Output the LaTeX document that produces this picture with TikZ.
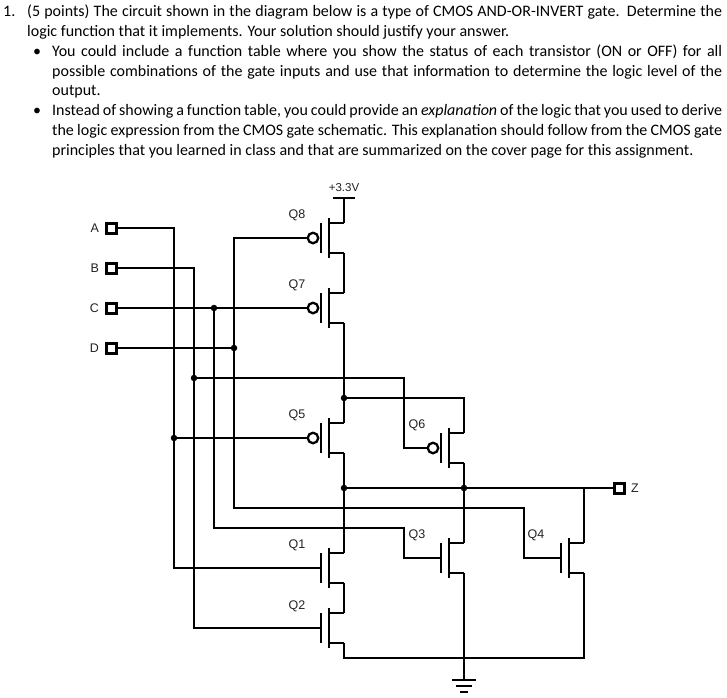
\documentclass[tikz,border=0pt]{standalone}
\usepackage{fontspec}
\setmainfont{Carlito}
\newfontfamily\schemfont{Liberation Sans}
\usetikzlibrary{positioning}
\definecolor{labelgray}{HTML}{222222}
\tikzset{
  wire/.style={line width=1.9pt, line join=miter},
  bar/.style={line width=2.2pt},
  pin/.style={draw, line width=3pt, fill=white, minimum size=10pt, inner sep=0pt},
  tap/.style={circle, fill=black, minimum size=6.5pt, inner sep=0pt},
  bubble/.style={circle, draw, line width=2.3pt, fill=white, minimum size=10.5pt, inner sep=0pt},
  qlabel/.style={font=\schemfont\fontsize{12.5}{14}\selectfont, color=labelgray},
  textline/.style={font=\fontsize{16}{18}\selectfont, anchor=base west, inner sep=0pt}
}
% width, text
\newcommand{\justline}[2]{\makebox[#1][s]{\spaceskip=.2em plus 1em minus .12em\relax #2}}
% name, channel x, gate y
\newcommand{\nfet}[3]{
  \coordinate (#1g) at (#2-8,#3);
  \coordinate (#1d) at (#2+15,#3-15);
  \coordinate (#1s) at (#2+15,#3+15);
  \draw[bar] (#2-8,#3-15) -- (#2-8,#3+15);
  \draw[bar] (#2,#3-20) -- (#2,#3+20);
  \draw[wire] (#2,#3-15) -- (#1d);
  \draw[wire] (#2,#3+15) -- (#1s);
}
\newcommand{\pfet}[3]{
  \nfet{#1}{#2}{#3}
  \node[bubble] (#1b) at (#2-16,#3) {};
}
\begin{document}
\begin{tikzpicture}[x=1pt, y=-1pt]
    \useasboundingbox (0,0) rectangle (727,697);
    % Question text
    \node[textline] (num) at (3,16) {1.};
    \node[textline] (line1) at (27,16) {\justline{695pt}{(5 points) The circuit shown in the diagram below is a type of CMOS AND-OR-INVERT gate. Determine the}};
    \node[textline] (line2) at (27,36) {logic function that it implements. Your solution should justify your answer.};
    \node[textline] (bulletA) at (33,56) {•};
    \node[textline] (line3) at (52,56) {\justline{670pt}{You could include a function table where you show the status of each transistor (ON or OFF) for all}};
    \node[textline] (line4) at (52,76) {\justline{670pt}{possible combinations of the gate inputs and use that information to determine the logic level of the}};
    \node[textline] (line5) at (52,95) {output.};
    \node[textline] (bulletB) at (33,115) {•};
    \node[textline] (line6) at (52,115) {\justline{670pt}{Instead of showing a function table, you could provide an \textit{explanation} of the logic that you used to derive}};
    \node[textline] (line7) at (52,135) {\justline{670pt}{the logic expression from the CMOS gate schematic. This explanation should follow from the CMOS gate}};
    \node[textline] (line8) at (52,155) {principles that you learned in class and that are summarized on the cover page for this assignment.};
    % Transistors
    \pfet{Q8}{329}{238}
    \pfet{Q7}{329}{308}
    \pfet{Q5}{329}{438}
    \pfet{Q6}{449}{448}
    \nfet{Q1}{329}{568}
    \nfet{Q2}{329}{628}
    \nfet{Q3}{449}{558}
    \nfet{Q4}{569}{558}
    \foreach \name/\x/\y in {Q8/297/215, Q7/297/285, Q5/297/415, Q6/417/425,
                             Q3/417/535, Q4/536/535, Q1/297/545, Q2/297/606}
      \node[qlabel] (\name label) at (\x,\y) {\name};
    % Input and output pins
    \foreach \name/\y in {A/228, B/268, C/308, D/348} {
      \node[pin] (pin\name) at (111,\y) {};
      \node[qlabel, left=2pt of pin\name] (label\name) {\name};
    }
    \node[pin] (pinZ) at (619,488) {};
    \node[qlabel, right=2pt of pinZ] (labelZ) {Z};
    % Junctions
    \node[tap] (dotA) at (174,438) {};
    \node[tap] (dotB) at (194,378) {};
    \node[tap] (dotC) at (214,308) {};
    \node[tap] (dotD) at (234,348) {};
    \node[tap] (dotP) at (344,398) {};
    \node[tap] (dotM) at (344,488) {};
    \node[tap] (dotN) at (464,488) {};
    \coordinate (q6in) at (404,378);
    \coordinate (q3in) at (404,528);
    \coordinate (q4in) at (524,508);
    \coordinate (q6top) at (464,398);
    \coordinate (zTap) at (584,488);
    \coordinate (busL) at (344,658);
    \coordinate (busR) at (584,658);
    \coordinate (gnd) at (464,680);
    % Input A
    \draw[wire] (pinA) -| (dotA) |- (Q1g);
    \draw[wire] (dotA) -- (Q5b);
    % Input B
    \draw[wire] (pinB) -| (dotB) |- (Q2g);
    \draw[wire] (dotB) -- (q6in) |- (Q6b);
    % Input C
    \draw[wire] (pinC) -- (dotC) -- (Q7b);
    \draw[wire] (dotC) |- (q3in) |- (Q3g);
    % Input D
    \draw[wire] (pinD) -- (dotD);
    \draw[wire] (Q8b) -| (dotD);
    \draw[wire] (dotD) |- (q4in) |- (Q4g);
    % Pull-up
    \coordinate (vdd) at (344,198);
    \draw[wire] (vdd) -- (Q8d);
    \draw[bar] (333,198) -- (355,198);
    \node[qlabel, font=\schemfont\fontsize{11.5}{13}\selectfont] (vddlabel) at (344,188) {+3.3V};
    \draw[wire] (Q8s) -- (Q7d);
    \draw[wire] (Q7s) -- (dotP) -- (Q5d);
    \draw[wire] (dotP) -- (q6top) -- (Q6d);
    % Output
    \draw[wire] (Q5s) -- (dotM) -- (Q1d);
    \draw[wire] (Q6s) -- (dotN) -- (Q3d);
    \draw[wire] (dotM) -- (dotN) -- (pinZ);
    \draw[wire] (Q4d) -- (zTap);
    % Pull-down
    \draw[wire] (Q1s) -- (Q2d);
    \draw[wire] (Q2s) -- (busL) -- (busR) -- (Q4s);
    \draw[wire] (Q3s) -- (gnd);
    \draw[bar] (452,680) -- (476,680);
    \draw[bar] (456,686) -- (472,686);
    \draw[bar] (460,692) -- (468,692);
\end{tikzpicture}
\end{document}
